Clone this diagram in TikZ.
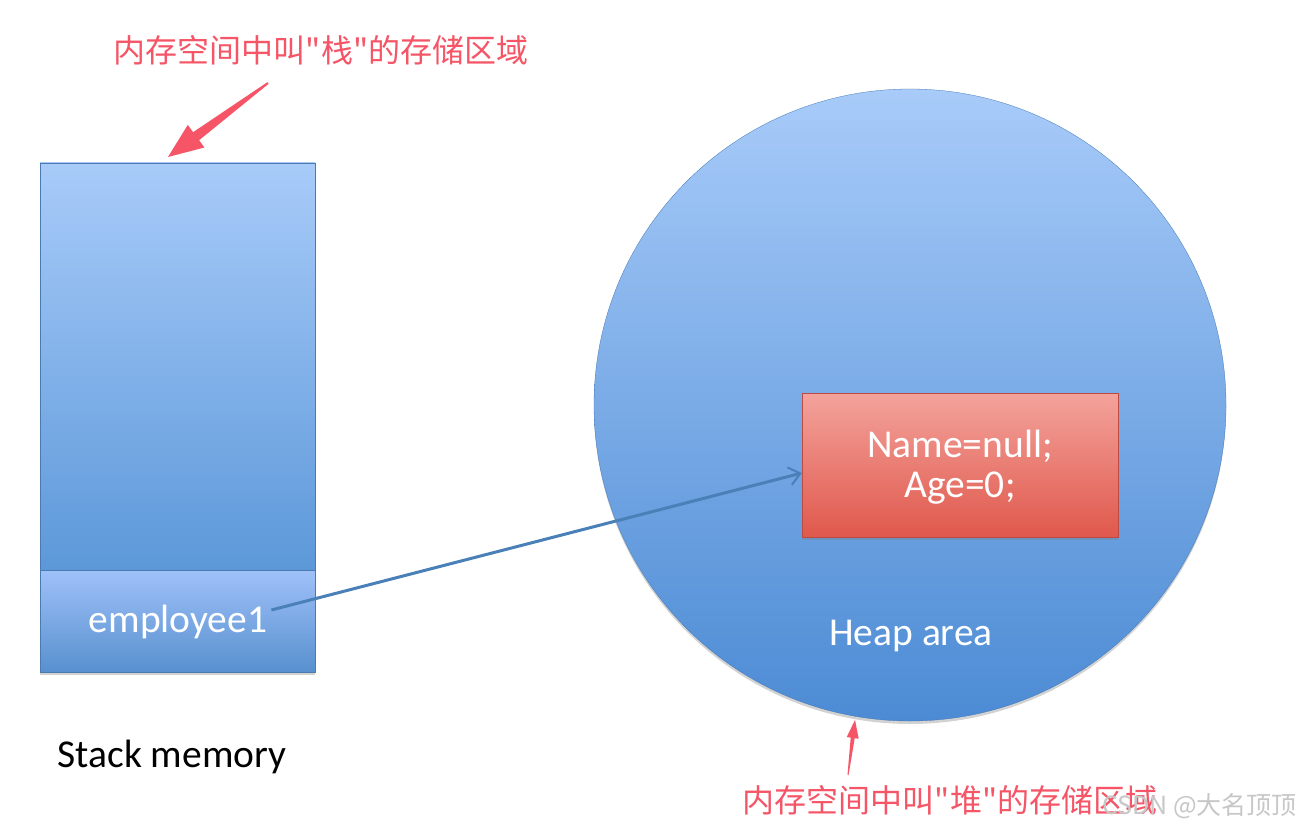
\documentclass[tikz,border=0pt]{standalone}
\usepackage{fontspec}
\setmainfont{Carlito}
\newfontfamily\cjk{Noto Sans CJK SC}
\usetikzlibrary{arrows.meta,shadows}
\definecolor{callred}{RGB}{245,85,102}
\definecolor{bluetop}{RGB}{168,203,249}
\definecolor{bluebot}{RGB}{92,152,217}
\definecolor{circbot}{RGB}{76,139,212}
\definecolor{redtop}{RGB}{243,163,156}
\definecolor{redbot}{RGB}{224,88,76}
\definecolor{linkblue}{RGB}{74,128,184}
\tikzset{
  callout/.style={font=\cjk\fontsize{32}{36}\selectfont, text=callred, inner sep=0pt},
  whitetxt/.style={font=\fontsize{39.5}{44}\selectfont, text=white, inner sep=2pt, align=center},
  memshadow/.style={drop shadow={opacity=0.35, shadow xshift=0pt, shadow yshift=-3pt}},
}
\begin{document}
\begin{tikzpicture}[x=1pt,y=-1pt]
\useasboundingbox[fill=white] (0,0) rectangle (1300,834);
% stack memory
\node[memshadow, draw=bluebot!80!black, line width=0.3pt, top color=bluetop, bottom color=bluebot, minimum width=275pt, minimum height=407pt, inner sep=0pt] (stack) at (177.5,366.5) {};
\node[memshadow, draw=bluebot!80!black, line width=0.3pt, top color=bluetop!95!blue, bottom color=bluebot!95!black, minimum width=275pt, minimum height=102pt, inner sep=0pt] (slot) at (177.5,621) {};
\node[whitetxt] (emp) at (178,622) {employee1};
\node[font=\fontsize{39.5}{44}\selectfont, inner sep=0pt] (stacklbl) at (172,757) {Stack memory};
% heap
\node[memshadow, circle, draw=circbot!85!black, line width=0.3pt, top color=bluetop, bottom color=circbot, minimum size=632pt, inner sep=0pt] (heap) at (910,405) {};
\node[memshadow, draw=redbot!85!black, line width=0.3pt, top color=redtop, bottom color=redbot, minimum width=316pt, minimum height=144pt, inner sep=0pt] (obj) at (960,465) {};
\node[whitetxt] (objtxt) at (960,467) {Name=null;\\[-4pt]Age=0;};
\node[whitetxt] (heaplbl) at (911,636) {Heap area};
% reference arrow
\draw[linkblue, line width=3pt, -{Straight Barb[length=11pt,width=18pt,line width=2pt]}] ([xshift=2pt,yshift=12pt]emp.east) -- ([yshift=-8pt]obj.west);
% callouts
\node[callout] (toplbl) at (321,50) {内存空间中叫"栈"的存储区域};
\node[callout] (botlbl) at (950,800) {内存空间中叫"堆"的存储区域};
\coordinate (t1) at (268,83);
\coordinate (h1) at (168,157);
\fill[callred] (268.6,83.8) -- (199.1,140.2) -- (204.4,147.5) -- (h1) -- (187.8,124.9) -- (193.1,132.2) -- (267.4,82.2) -- cycle;
\coordinate (t2) at (848,775);
\coordinate (h2) at (855,720);
\fill[callred] (848.5,775.1) -- (854.7,738.2) -- (858.7,738.7) -- (h2) -- (846.7,737.1) -- (850.7,737.6) -- (847.5,774.9) -- cycle;
% watermark
\node[font=\cjk\fontsize{25}{30}\selectfont, text=black!22, inner sep=0pt, anchor=east] (wm) at (1297,806) {CSDN @大名顶顶};
\end{tikzpicture}
\end{document}
